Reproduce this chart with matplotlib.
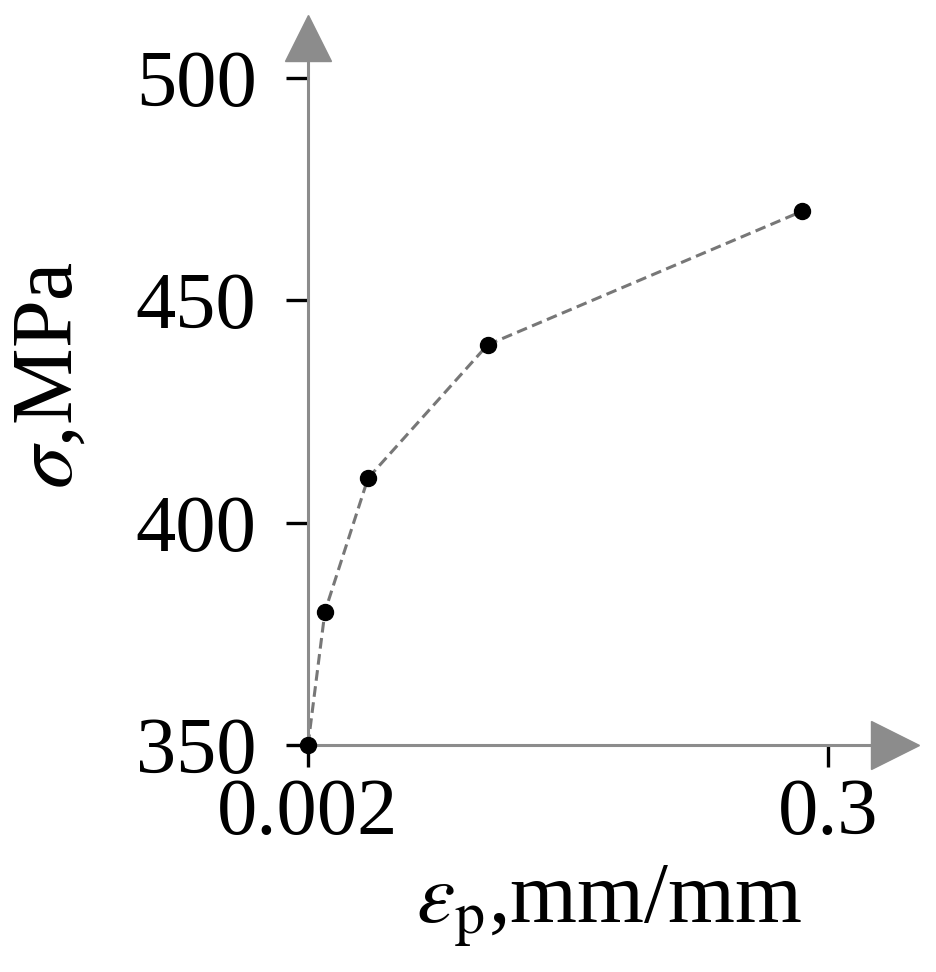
import matplotlib.pyplot as plt
from matplotlib.transforms import offset_copy

strain = [0.002, 0.0117, 0.0364, 0.105, 0.285]
stress = [350, 380, 410, 440, 470]
xticks = [0.002, 0.3]
xticklabels = ["0.002", "0.3"]
yticks = [350, 400, 450, 500]

plt.rcParams["font.family"] = ["Liberation Serif", "DejaVu Serif"]
plt.rcParams["mathtext.fontset"] = "stix"

axis_grey = "#8c8c8c"

fig = plt.figure(figsize=(9.36, 9.72), dpi=100)
ax = fig.add_axes([308 / 936, 227 / 972, 562 / 936, 683 / 972])

ax.plot(strain, stress, linestyle=(0, (3.5, 1.8)), color="#777777", lw=2.2,
        zorder=2, clip_on=False)
ax.plot(strain, stress, "o", color="black", ms=11.5, zorder=3, clip_on=False)

ax.set_xlim(0.002, 0.002 + 562 / 1745)
ax.set_ylim(350, 350 + 683 / 4.447)

for s in ["top", "right"]:
    ax.spines[s].set_visible(False)
for s in ["left", "bottom"]:
    ax.spines[s].set_color(axis_grey)
    ax.spines[s].set_linewidth(2.2)

ax.set_xticks(xticks)
ax.set_xticklabels(xticklabels)
ax.set_yticks(yticks)
ax.tick_params(axis="both", direction="out", length=16, width=2.4,
               color="black", labelsize=58)
ax.tick_params(axis="x", pad=8)
ax.tick_params(axis="y", pad=21)

# arrow heads at the end of each axis
up = offset_copy(ax.transAxes, fig=fig, x=0, y=17, units="points")
right = offset_copy(ax.transAxes, fig=fig, x=18, y=0, units="points")
ax.plot([0], [1], marker="^", ms=33, color=axis_grey, transform=up, clip_on=False)
ax.plot([1], [0], marker=">", ms=35, color=axis_grey, transform=right, clip_on=False)

ax.set_xlabel(r"$\varepsilon_{\mathrm{p}}$,mm/mm", fontsize=62)
ax.xaxis.set_label_coords(0.535, -0.174)
ax.set_ylabel(r"$\sigma$,MPa", fontsize=62)
ax.yaxis.set_label_coords(-0.386, 0.542)

fig.savefig("out.png", dpi=100)
